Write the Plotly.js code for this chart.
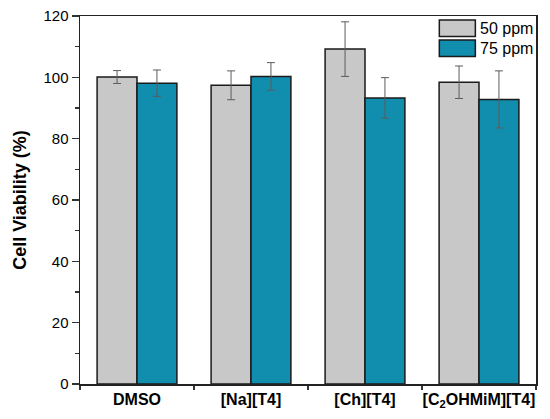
<!DOCTYPE html>
<html>
<head>
<meta charset="utf-8">
<script src="https://cdn.plot.ly/plotly-3.0.1.min.js"></script>
<style>
  html, body { margin: 0; padding: 0; background: #fff; }
  #chart { width: 550px; height: 419px; }
</style>
</head>
<body>
<div id="chart"></div>
<script>
// values
const categories = ['DMSO', '[Na][T4]', '[Ch][T4]', '[C2OHMiM][T4]'];
const tickLabels = ['DMSO', '[Na][T4]', '[Ch][T4]', '[C<sub>2</sub>OHMiM][T4]'];
const seriesNames = ['50 ppm', '75 ppm'];
const viability50 = [100.1, 97.4, 109.2, 98.4];
const viability75 = [98.1, 100.3, 93.3, 92.8];
const err50 = [2.1, 4.7, 8.9, 5.3];
const err75 = [4.3, 4.5, 6.6, 9.3];

const fillColors = ['#c8c8c8', '#118dad'];
const FONT = 'Arial, "Liberation Sans", sans-serif';

function barTrace(name, y, err, color) {
  return {
    type: 'bar',
    name: name,
    x: categories,
    y: y,
    marker: { color: color, line: { color: '#1a1a1a', width: 1.5 } },
    error_y: { type: 'data', array: err, visible: true, color: '#5c5c5c', thickness: 1, width: 4 },
    showlegend: false
  };
}

const data = [
  barTrace(seriesNames[0], viability50, err50, fillColors[0]),
  barTrace(seriesNames[1], viability75, err75, fillColors[1])
];

// hand made legend so the swatches are big like the original
const shapes = [];
const annotations = [];
const boxTop = [0.989, 0.935];
seriesNames.forEach((name, i) => {
  shapes.push({
    type: 'rect', xref: 'paper', yref: 'paper',
    x0: 0.788, x1: 0.867, y0: boxTop[i] - 0.045, y1: boxTop[i],
    fillcolor: fillColors[i], line: { color: '#1a1a1a', width: 1.5 }
  });
  annotations.push({
    xref: 'paper', yref: 'paper', x: 0.873, y: boxTop[i] - 0.0225,
    xanchor: 'left', yanchor: 'middle', text: name, showarrow: false,
    font: { family: FONT, size: 16, color: '#000' }
  });
});

const layout = {
  width: 550,
  height: 419,
  margin: { l: 80, r: 14, t: 16, b: 35 },
  paper_bgcolor: '#fff',
  plot_bgcolor: '#fff',
  font: { family: FONT, color: '#000' },
  barmode: 'group',
  bargap: 0.3,
  bargroupgap: 0,
  xaxis: {
    type: 'category',
    range: [-0.5, 3.5],
    tickmode: 'array',
    tickvals: categories,
    ticktext: tickLabels,
    tickson: 'boundaries',
    tickangle: 0,
    automargin: false,
    ticks: 'outside',
    ticklen: 4,
    tickwidth: 1.2,
    tickcolor: '#333',
    tickfont: { family: FONT, size: 16, weight: 'bold', color: '#000' },
    showline: true,
    linecolor: '#222',
    linewidth: 1.5,
    mirror: true,
    showgrid: false,
    zeroline: false
  },
  yaxis: {
    range: [0, 120],
    dtick: 20,
    ticks: 'outside',
    ticklen: 7,
    tickwidth: 1.2,
    tickcolor: '#333',
    tickfont: { family: FONT, size: 15, color: '#000' },
    minor: { dtick: 10, ticks: 'outside', ticklen: 4, tickwidth: 1.2, tickcolor: '#333', showgrid: false },
    showline: true,
    linecolor: '#222',
    linewidth: 1.5,
    mirror: true,
    showgrid: false,
    zeroline: false,
    automargin: false,
    title: { text: 'Cell Viability (%)', standoff: 12, font: { family: FONT, size: 18, weight: 'bold', color: '#000' } }
  },
  shapes: shapes,
  annotations: annotations
};

Plotly.newPlot('chart', data, layout, { staticPlot: true, displayModeBar: false });
</script>
</body>
</html>
